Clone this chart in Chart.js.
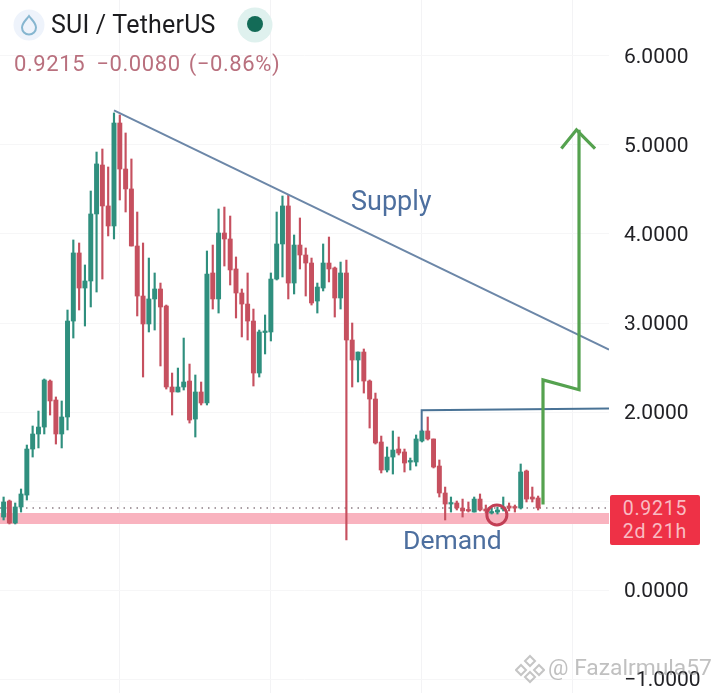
<!DOCTYPE html>
<html>
<head>
<meta charset="utf-8">
<script src="https://cdn.jsdelivr.net/npm/chart.js@4"></script>
<style>
  html, body { margin: 0; padding: 0; background: #fff; }
  #wrap { position: relative; width: 720px; height: 693px; overflow: hidden; font-family: Roboto, sans-serif; }
  #chart { position: absolute; left: 0; top: 0; }
  .txt { position: absolute; white-space: nowrap; }
  #title { left: 51px; top: 9px; font-size: 25px; line-height: 32px; color: #1c1c1f; letter-spacing: 0.2px; }
  #sub { left: 14px; top: 50px; font-size: 22px; line-height: 28px; color: #b9707e; letter-spacing: 0.6px; }
  #sub span { margin-left: 11px; }
  #sub span + span { margin-left: 8px; }
  #supply { left: 351px; top: 185px; font-size: 27px; line-height: 32px; color: #4d6f9f; }
  #demand { left: 403px; top: 524px; font-size: 26.500px; line-height: 32px; color: #4d6f9f; }
  #price { left: 610px; top: 495px; width: 90px; height: 50px; background: #ee3146; border-radius: 2px; color: #f9bcc3; font-size: 19.500px; line-height: 23px; text-align: center; letter-spacing: 0.8px; }
  #price div { padding-top: 2px; height: 21px; }
  #mark { left: 548px; top: 654px; font-size: 22.800px; line-height: 28px; color: rgba(140,140,140,.55); }
  svg { position: absolute; }
</style>
</head>
<body>
<div id="wrap">
  <canvas id="chart" width="720" height="693"></canvas>
  <svg style="left:13px;top:9px" width="32" height="32"><circle cx="16" cy="16" r="15.5" fill="#eef3fb"/><path d="M16 7 C19 11 23 14 23 18.500 A7 7 0 0 1 9 18.500 C9 14 13 11 16 7 Z" fill="none" stroke="#86b6d0" stroke-width="2"/></svg>
  <svg style="left:237px;top:7px" width="36" height="36"><circle cx="18" cy="18" r="17.500" fill="#dff1ee"/><circle cx="18" cy="17" r="8" fill="#136b57"/></svg>
  <div id="title" class="txt">SUI / TetherUS</div>
  <div id="sub" class="txt">0.9215<span>−0.0080</span><span>(−0.86%)</span></div>
  <div id="supply" class="txt">Supply</div>
  <div id="demand" class="txt">Demand</div>
  <div id="price" class="txt"><div>0.9215</div><div>2d 21h</div></div>
  <svg style="left:515px;top:654px" width="30" height="30"><g fill="none" stroke="rgba(150,150,150,.55)" stroke-width="2"><path d="M15 2 L20 7 L15 12 L10 7 Z"/><path d="M6 11 L11 16 L6 21 L1 16 Z"/><path d="M24 11 L29 16 L24 21 L19 16 Z"/><path d="M15 18 L20 23 L15 28 L10 23 Z"/></g></svg>
  <div id="mark" class="txt">@ Fazalrmula57</div>
</div>
<script>
// ----- CANDLES -----
const opens = [0.820,1.000,0.753,0.933,1.067,1.584,1.753,1.831,2.348,2.135,1.753,1.944,3.022,3.787,3.393,3.472,4.225,4.775,4.315,4.090,
  5.247,4.730,4.506,3.865,3.303,2.989,3.270,3.382,3.191,2.281,2.225,2.281,2.348,1.921,2.225,2.101,3.562,3.270,4.011,3.944,
  3.607,3.337,3.213,3.022,2.438,2.893,2.899,3.494,3.888,4.315,3.449,3.876,3.764,3.674,3.247,3.393,3.674,3.618,3.281,3.562,
  2.809,2.584,2.674,2.348,2.146,1.663,1.348,1.494,1.584,1.551,1.438,1.438,1.674,1.787,1.697,1.393,1.090,0.966,0.978,0.921,
  0.899,0.876,1.022,0.910,0.865,0.876,0.910,0.944,0.933,0.921,1.337,1.045,1.034];
const highs = [1.045,1.011,0.978,1.135,1.629,1.843,2.011,2.371,2.360,2.169,2.124,3.146,3.933,3.899,3.652,4.483,4.921,4.955,4.753,5.360,
  5.337,5.135,4.843,4.247,3.899,3.730,3.562,3.449,3.202,2.438,2.494,2.831,2.539,2.416,2.337,3.809,3.876,4.281,4.303,4.202,
  3.742,3.382,3.562,3.157,2.921,3.090,3.562,4.247,4.427,4.438,3.989,4.180,3.843,3.730,3.449,3.888,3.966,3.629,3.685,3.708,
  3.000,2.674,2.708,2.360,2.213,1.730,1.607,1.787,1.719,1.584,1.483,1.742,1.798,1.944,1.697,1.461,1.157,1.045,1.000,1.022,
  0.989,1.045,1.079,0.955,0.921,0.933,1.045,0.978,0.955,1.416,1.348,1.157,1.056];
const lows = [0.787,0.742,0.742,0.876,1.011,1.494,1.596,1.753,1.966,1.640,1.596,1.798,2.831,3.146,2.966,3.180,3.348,3.494,3.978,3.944,
  4.382,4.247,3.865,3.079,2.393,2.899,2.921,2.517,2.258,1.966,2.225,2.247,1.876,1.719,2.079,2.079,3.157,3.112,3.640,3.427,
  3.056,2.843,2.809,2.292,2.393,2.652,2.798,3.483,3.517,3.270,3.326,3.607,3.303,3.202,3.112,3.360,3.461,3.067,3.157,0.562,
  2.281,2.337,2.213,1.820,1.640,1.315,1.326,1.303,1.517,1.326,1.348,1.393,1.663,1.685,1.371,1.045,0.787,0.876,0.899,0.820,
  0.876,0.876,0.888,0.865,0.854,0.854,0.888,0.888,0.876,0.910,0.989,0.989,0.899];
const closes = [0.989,0.753,0.933,1.079,1.584,1.753,1.831,2.360,2.124,1.753,1.944,3.022,3.787,3.393,3.472,4.225,4.787,4.315,4.090,5.247,
  4.730,4.506,3.865,3.303,2.989,3.270,3.382,3.180,2.281,2.225,2.281,2.337,1.910,2.225,2.101,3.551,3.270,4.011,3.944,3.596,
  3.337,3.213,3.022,2.438,2.899,2.910,3.494,3.888,4.315,3.449,3.876,3.764,3.674,3.225,3.404,3.674,3.607,3.281,3.562,2.809,
  2.584,2.674,2.348,2.146,1.652,1.348,1.494,1.573,1.539,1.427,1.449,1.697,1.787,1.697,1.382,1.090,0.966,0.978,0.921,0.888,
  0.888,1.022,0.899,0.888,0.876,0.899,0.933,0.921,0.921,1.326,1.022,1.022,0.9215];

// ----- AXES -----
const priceTicks = [-1, 0, 1, 2, 3, 4, 5, 6];
const priceLabels = ["−1.0000", "0.0000", "", "2.0000", "3.0000", "4.0000", "5.0000", "6.0000"];
const timeGrid = [20, 46, 72, 98];

// ----- DRAWN ON TOP OF THE CANDLES -----
const lastPrice = 0.9215;
const demandLevel = 0.803;
const supplyLine = [[19, 5.39], [104.2, 2.70]];
const breakLine = [[71.96, 1.78], [71.96, 2.02], [104.2, 2.04]];
const targetArrow = [[92.84, 0.96], [92.84, 2.36], [99.04, 2.25], [99.04, 5.17]];
const arrowHead = [[96.0, 4.96], [98.6, 5.17], [101.8, 4.96]];
const markedCandle = [[84.9, 0.843]];

const GREEN = "#2f8f7e";
const RED = "#c6505f";
const xMin = -0.62, xMax = 104.2;
const yMin = -1.157, yMax = 6.629;
// canvas text sits 2px above the labels in the picture, so labels get their own slightly shifted axis
const labelShift = 0.0225;

const pts = (arr) => arr.map(p => ({ x: p[0], y: p[1] }));
const candleColors = opens.map((o, i) => closes[i] >= o ? GREEN : RED);

function lineSet(points, color, width, order) {
  return {
    type: "line", data: pts(points), borderColor: color, borderWidth: width,
    pointRadius: 0, tension: 0, fill: false, order
  };
}

new Chart(document.getElementById("chart"), {
  data: {
    datasets: [
      lineSet([[xMin, demandLevel], [xMax, demandLevel]], "#f9b3bf", 11, 10),
      Object.assign(lineSet([[xMin, lastPrice], [xMax, lastPrice]], "#8d7f86", 1.5, 9), { borderDash: [1.5, 5] }),
      {
        type: "bar", grouped: false, order: 6, barThickness: 1.5, maxBarThickness: 1.5,
        data: highs.map((h, i) => ({ x: i, y: [lows[i], h] })),
        backgroundColor: candleColors
      },
      {
        type: "bar", grouped: false, order: 5, barThickness: 4.3, maxBarThickness: 4.3, minBarLength: 1.5,
        data: closes.map((c, i) => ({ x: i, y: [opens[i], c] })),
        backgroundColor: candleColors
      },
      lineSet(supplyLine, "#6c87a8", 2, 3),
      lineSet(breakLine, "#4a7396", 2, 3),
      lineSet(targetArrow, "#55a24f", 3.2, 2),
      lineSet(arrowHead, "#55a24f", 3.2, 2),
      {
        type: "scatter", data: pts(markedCandle), order: 1,
        pointRadius: 10, pointBorderWidth: 3, pointBorderColor: "#c23f55", pointBackgroundColor: "rgba(0,0,0,0)"
      }
    ]
  },
  options: {
    responsive: false,
    animation: false,
    layout: { padding: 0, autoPadding: false },
    plugins: { legend: { display: false }, tooltip: { enabled: false } },
    scales: {
      x: {
        type: "linear", min: xMin, max: xMax, offset: false,
        afterBuildTicks: (axis) => { axis.ticks = timeGrid.map(v => ({ value: v })); },
        afterFit: (axis) => { axis.height = 0; axis.paddingLeft = 0; axis.paddingRight = 0; },
        ticks: { display: false },
        border: { display: false },
        grid: { color: "#f3f3f5", drawTicks: false, offset: false }
      },
      y: {
        position: "right", min: yMin, max: yMax,
        afterBuildTicks: (axis) => { axis.ticks = priceTicks.map(v => ({ value: v })); },
        afterFit: (axis) => { axis.width = 0; axis.paddingTop = 0; axis.paddingBottom = 0; },
        ticks: { display: false },
        border: { display: false },
        grid: { color: "#f6f6f7", drawTicks: false }
      },
      yLabels: {
        position: "right", min: yMin + labelShift, max: yMax + labelShift,
        afterBuildTicks: (axis) => { axis.ticks = priceTicks.map(v => ({ value: v })); },
        afterFit: (axis) => { axis.width = 111; axis.paddingTop = 0; axis.paddingBottom = 0; },
        ticks: {
          padding: 15, color: "#222226",
          font: { family: "Roboto", size: 21 },
          callback: (v) => priceLabels[priceTicks.indexOf(v)]
        },
        border: { display: false },
        grid: { display: false, drawTicks: false }
      }
    }
  }
});
</script>
</body>
</html>
